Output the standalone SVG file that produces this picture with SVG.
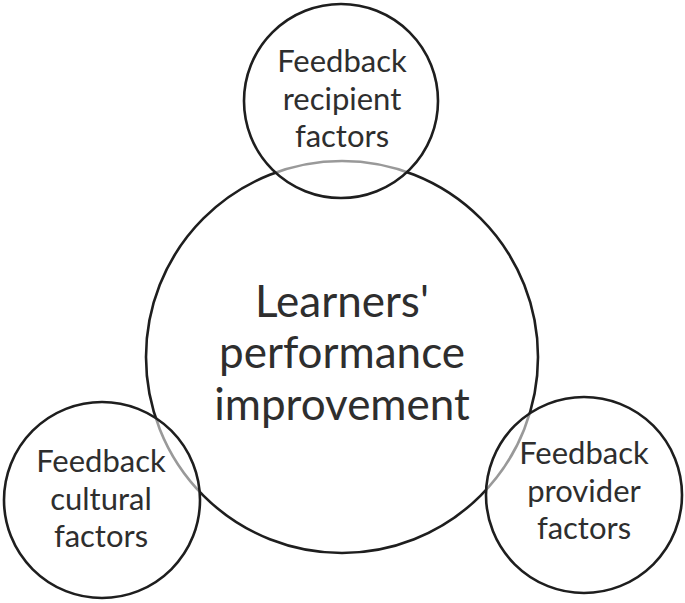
<svg xmlns="http://www.w3.org/2000/svg" width="685" height="603" viewBox="0 0 685 603">
<style>
.c{stroke:#1e1e1e;stroke-width:2.6}
.main{fill:#fff}
.sat{fill:#fff;fill-opacity:0.55}
.t{font-family:Lato,"Open Sans","Liberation Sans",sans-serif;fill:#2e2e2e;text-anchor:middle}
.big{font-size:44px}
.sm{font-size:31px}
</style>
<rect width="685" height="603" fill="#fff"/>
<g id="learners-performance">
<circle class="c main" cx="342" cy="357" r="196"/>
<text class="t big" x="342" y="317">Learners'</text>
<text class="t big" x="342" y="368">performance</text>
<text class="t big" x="342" y="420">improvement</text>
</g>
<g id="recipient-factors">
<circle class="c sat" cx="341" cy="101" r="97"/>
<text class="t sm" x="342" y="72">Feedback</text>
<text class="t sm" x="342" y="110">recipient</text>
<text class="t sm" x="342" y="147">factors</text>
</g>
<g id="cultural-factors">
<circle class="c sat" cx="102" cy="500" r="98"/>
<text class="t sm" x="101" y="472">Feedback</text>
<text class="t sm" x="101" y="510">cultural</text>
<text class="t sm" x="101" y="547">factors</text>
</g>
<g id="provider-factors">
<circle class="c sat" cx="584" cy="495" r="98"/>
<text class="t sm" x="584" y="464">Feedback</text>
<text class="t sm" x="584" y="502">provider</text>
<text class="t sm" x="584" y="539">factors</text>
</g>
<g id="connectors"/>
</svg>
